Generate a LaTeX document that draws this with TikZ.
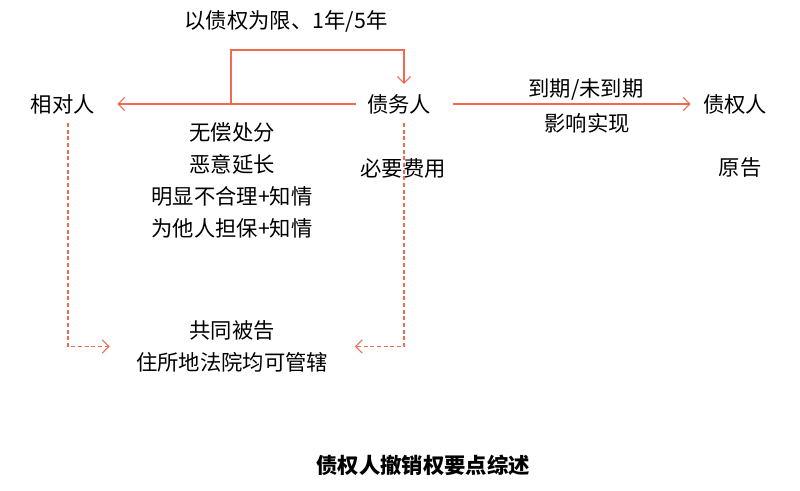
\documentclass[tikz,border=0pt]{standalone}
\usepackage{fontspec}
\setmainfont{Noto Sans CJK SC}
\usetikzlibrary{arrows.meta}
\definecolor{linkred}{RGB}{238,106,80}
\tikzset{
  lbl/.style={inner sep=0pt, font=\fontsize{16pt}{24pt}\selectfont, align=center},
  arr/.style={draw=linkred, line width=0.8pt, -{Straight Barb[length=5pt,width=10pt]}},
  dasharr/.style={arr, dash pattern=on 3pt off 2pt}
}
\begin{document}
\begin{tikzpicture}[x=0.75pt,y=-0.75pt]
\useasboundingbox (0,0) rectangle (800,491);
% parties
\node[lbl] (party) at (63,104) {相对人};
\node[lbl] (debtor) at (399,104) {债务人};
\node[lbl] (creditor) at (735,104) {债权人};
\node[lbl] (plaintiff) at (740,167) {原告};

% labels
\node[lbl] (limit) at (286,21) {以债权为限、1年/5年};
\node[lbl] (due) at (586,89) {到期/未到期};
\node[lbl] (effect) at (587,123) {影响实现};
\node[lbl] (acts) at (232,180) {无偿处分\\恶意延长\\明显不合理+知情\\为他人担保+知情};
\node[lbl] (cost) at (403,168) {必要费用};
\node[lbl] (court) at (232,346.5) {共同被告\\住所地法院均可管辖};
\node[lbl, font=\fontsize{16pt}{24pt}\selectfont\bfseries] (title) at (423,465) {债权人撤销权要点综述};

% connectors
\coordinate (split) at (231,104);
\coordinate (bend) at (404,50);
\coordinate (tipA) at (404,84);
\coordinate (pl) at (68,123);
\coordinate (pr) at (404,123);
\draw[arr, shorten <=8pt, shorten >=16.5pt] (debtor.west) -- (party.east);
\draw[arr] (split) |- (bend) -- (tipA);
\draw[arr, shorten <=16.5pt, shorten >=9pt] (debtor.east) -- (creditor.west);
\draw[dasharr, shorten >=19.5pt] (pl) |- (court.west);
\draw[dasharr, shorten >=20pt] (pr) |- (court.east);
\end{tikzpicture}
\end{document}
